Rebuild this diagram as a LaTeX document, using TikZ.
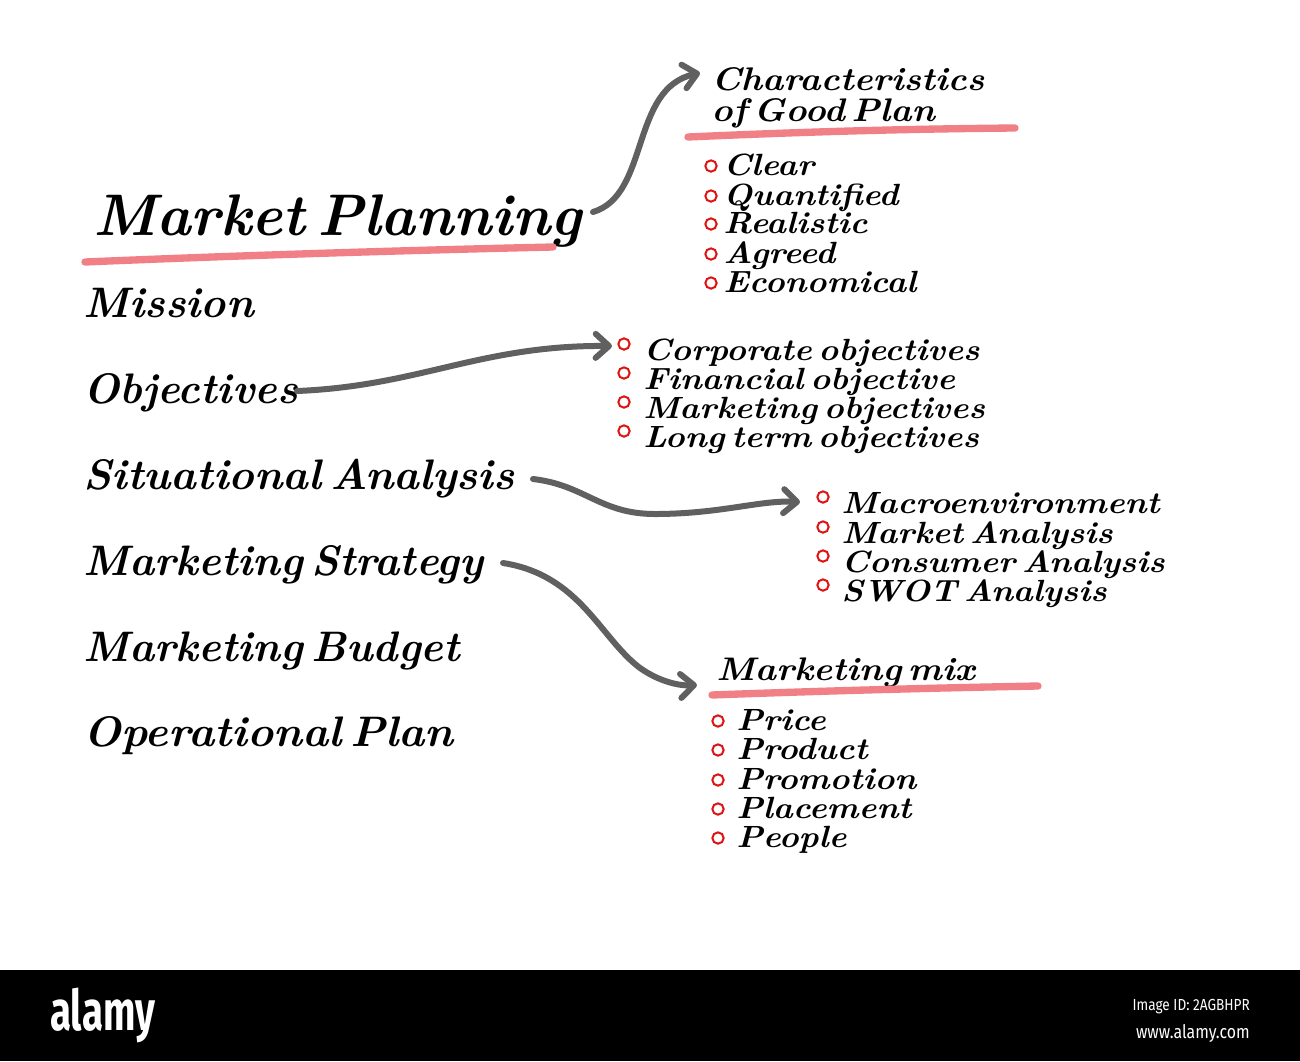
\documentclass[tikz,border=0pt]{standalone}
\usepackage{fontspec}
\usetikzlibrary{arrows.meta}
\newfontfamily\wmfont{Fira Sans}
\definecolor{pinkline}{RGB}{240,128,134}
\definecolor{arrgray}{RGB}{96,96,96}
\definecolor{bulred}{RGB}{222,20,20}
\newcommand{\hstretch}[1]{\scalebox{1.1}[1]{#1}}
\newcommand{\tightsp}[1]{\spaceskip=#1em\relax}
\tikzset{
  hw/.style={anchor=base west, inner sep=0pt, text=black},
  ttl/.style={hw, font=\fontsize{44}{44}\selectfont\bfseries\itshape\tightsp{0.2}},
  lft/.style={hw, font=\fontsize{32}{32}\selectfont\bfseries\itshape\tightsp{0.2}},
  hdr/.style={hw, font=\fontsize{24.5}{24.5}\selectfont\bfseries\itshape\tightsp{0.18}},
  itm/.style={hw, font=\fontsize{23}{23}\selectfont\bfseries\itshape\tightsp{0.2}},
  bul/.style={circle, draw=bulred, line width=1.5pt, minimum size=8.5pt, inner sep=0pt},
  uline/.style={draw=pinkline, line width=5.5pt, line cap=round},
  arr/.style={draw=arrgray, line width=4.5pt, line cap=round, line join=round,
    -{Straight Barb[length=10pt, width=18pt, line width=4.5pt, round]}},
}
\begin{document}
\begin{tikzpicture}[x=0.75pt,y=-0.75pt]
\useasboundingbox (0,0) rectangle (1300,1061);
\fill[white] (0,0) rectangle (1300,1061);

% title and left column
\node[ttl] (title) at (93,235) {Market Planning};
\draw[uline] (85,262) .. controls (250,255) and (420,250) .. (553,247);
\node[lft] (mission) at (83,317) {Mission};
\node[lft] (obj) at (83,403) {Objectives};
\node[lft] (sit) at (83,489) {\scalebox{1.02}[1]{Situational Analysis}};
\node[lft] (strat) at (83,575) {Marketing Strategy};
\node[lft] (budget) at (83,661) {Marketing Budget};
\node[lft] (oper) at (83,746) {\scalebox{1.04}[1]{Operational Plan}};

% characteristics
\node[hdr] (char1) at (711,90) {\hstretch{Characteristics}};
\node[hdr] (char2) at (711,121) {\hstretch{of Good Plan}};
\draw[uline] (688,137) .. controls (800,132) and (900,129) .. (1015,128);
\foreach \t/\y [count=\i] in {Clear/175,Quantified/205,Realistic/233,Agreed/263,Economical/292}{
  \node[bul] (cb\i) at (711,\y-9) {};
  \node[itm] (ct\i) at (723,\y) {\hstretch{\t}};
}

% objectives list
\foreach \t/\y [count=\i] in {Corporate objectives/360,Financial objective/389,Marketing objectives/418,Long term objectives/447}{
  \node[bul] (ob\i) at (624,\y-16) {};
  \node[itm] (ot\i) at (643,\y) {\hstretch{\t}};
}

% situational list
\foreach \t/\y [count=\i] in {Macroenvironment/513,Market Analysis/543,Consumer Analysis/572,SWOT Analysis/601}{
  \node[bul] (sb\i) at (823,\y-16) {};
  \node[itm] (st\i) at (841,\y) {\hstretch{\t}};
}

% marketing mix
\node[hdr] (mix) at (716,680) {\hstretch{Marketing mix}};
\draw[uline] (712,695) .. controls (820,691) and (930,688) .. (1038,686);
\foreach \t/\y [count=\i] in {Price/730,Product/759,Promotion/789,Placement/818,People/847}{
  \node[bul] (mb\i) at (718,\y-9) {};
  \node[itm] (mt\i) at (736,\y) {\hstretch{\t}};
}

% arrows
\coordinate (a1s) at (593,212);
\coordinate (a1e) at (700,73);
\draw[arr] (a1s) .. controls (650,195) and (630,88) .. (a1e);
\coordinate (a2s) at (297,391);
\coordinate (a2e) at (612,346);
\draw[arr] (a2s) .. controls (420,386) and (480,345) .. (a2e);
\coordinate (a3s) at (533,479);
\coordinate (a3m) at (655,514);
\coordinate (a3e) at (800,502);
\draw[arr] (a3s) .. controls (585,485) and (600,514) .. (a3m) .. controls (720,514) and (760,500) .. (a3e);
\coordinate (a4s) at (503,563);
\coordinate (a4m) at (640,668);
\coordinate (a4e) at (697,685);
\draw[arr] (a4s) .. controls (580,575) and (600,638) .. (a4m) .. controls (660,682) and (680,686) .. (a4e);

% watermark bar
\fill[black] (0,970) rectangle (1300,1061);
\node[anchor=west, inner sep=0pt, text=white, font=\wmfont\bfseries\fontsize{40}{40}\selectfont] (logo) at (50,1015) {\scalebox{0.72}[1.05]{alamy}};
\node[anchor=east, inner sep=0pt, text=white, font=\wmfont\fontsize{12}{12}\selectfont] (imgid) at (1250,1007) {\scalebox{0.85}[1]{Image ID: 2AGBHPR}};
\node[anchor=east, inner sep=0pt, text=white, font=\wmfont\fontsize{14}{14}\selectfont] (www) at (1250,1033) {\scalebox{0.85}[1]{www.alamy.com}};
\end{tikzpicture}
\end{document}
